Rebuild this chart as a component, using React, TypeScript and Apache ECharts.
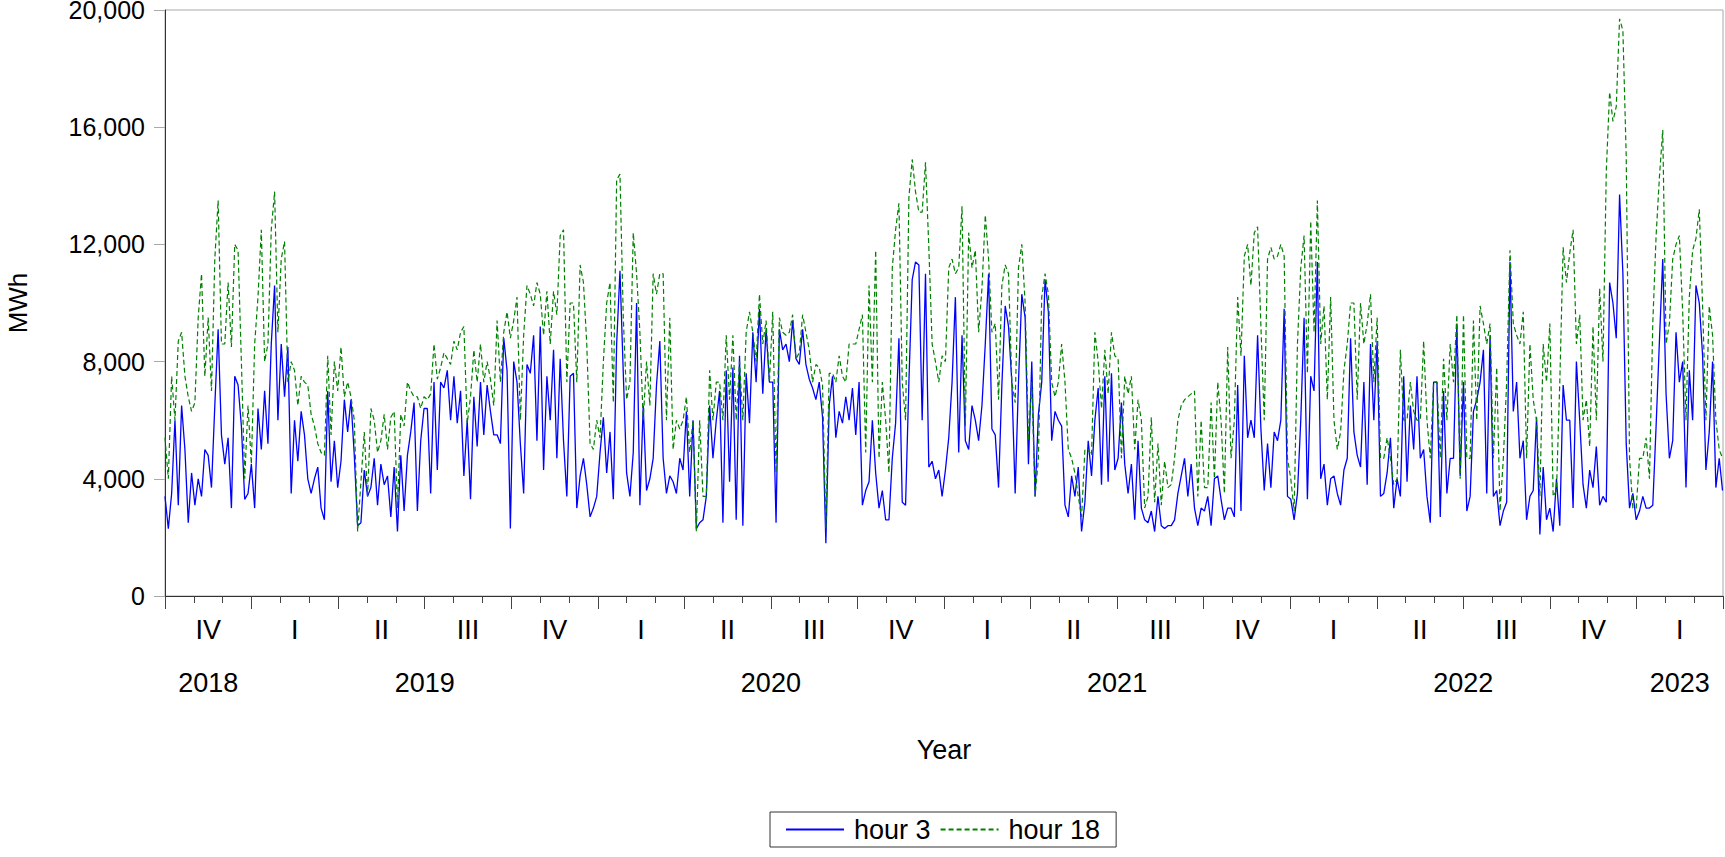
import React, { useEffect, useRef } from "react";
import * as echarts from "echarts";

// Samples every 3.5 days from 1 Oct 2018 to 31 Mar 2023, MWh
const stepDays = 3.5;
const totalDays = 1642;
const quarterLabels = ["IV", "I", "II", "III", "IV", "I", "II", "III", "IV", "I", "II", "III", "IV", "I", "II", "III", "IV", "I"];
const years = ["2018", "2019", "2020", "2021", "2022", "2023"];
const quartersPerYear = [1, 4, 4, 4, 4, 1];
const yTicks = [0, 4000, 8000, 12000, 16000, 20000];

const hour3 = [
  3400,2300,3500,6000,3100,6500,5000,2500,4200,3100,4000,3400,5000,4800,3700,6500,9100,5500,4500,5400,3000,7500,7200,5800,3300,3500,4500,3000,6400,5000,7000,5200,8600,10600,6000,8600,6800,8500,3500,6000,4600,6300,5500,4000,3500,4000,4400,
  3000,2600,7000,3900,5300,3700,4600,6700,5600,6700,4800,2400,2500,4300,3400,3700,4700,3100,4500,3800,4100,2700,4400,2200,4800,2900,4800,5600,6600,2900,5300,6400,6400,3500,7300,4300,7300,7100,7700,6000,7500,5900,7000,4100,6000,3300,6800,
  5100,7300,5500,7200,6300,5500,5500,5200,8800,7700,2300,8000,7300,5200,3500,7900,7600,8900,5300,9200,4300,7500,6000,8400,4700,8100,5300,3400,7500,7600,3000,4100,4700,3800,2700,3000,3400,4900,6100,4200,5600,3300,8600,11100,7600,4200,3400,
  4900,10000,3100,6500,3600,4000,4700,7200,8700,4700,3500,4100,3900,3500,4700,4300,6300,3400,6000,2300,2500,2600,3400,6500,4700,6000,7000,2500,7700,3900,7800,2600,8200,2400,7600,5900,9000,7300,9800,6900,9100,7300,7300,2500,9100,8400,8600,
  8000,9400,8100,7900,9100,7900,7400,7100,6700,7300,6100,1800,6500,7500,5400,6300,5900,6800,6000,7100,5500,7300,3100,3600,3900,6000,4200,3000,3600,2600,2600,4700,5900,8800,3200,3100,7300,10800,11400,11300,6000,11000,4400,4600,4000,4300,3400,
  4300,5400,7300,10200,4900,8900,5300,5000,6500,6000,5300,6500,8600,11000,5700,5500,3700,7200,9900,9200,7300,3500,7300,10300,9500,4500,8000,3400,6200,7300,10800,9700,5300,6300,6000,5800,3100,2700,4100,3400,4400,2200,3200,5300,4100,6000,7100,
  3800,7500,3900,7600,4300,4700,6600,4500,3500,4500,2600,5300,3000,2600,2500,2900,2200,3400,2400,2300,2400,2400,2600,3500,4100,4700,3400,4500,3000,2400,3000,2900,3400,2400,4000,4100,3300,2600,3000,3000,2700,7200,2900,8200,5400,6000,5400,
  8900,5700,3600,5200,3700,5600,5300,6000,9800,3400,3300,2600,3500,6000,9500,3300,7500,7000,11400,4000,4500,3100,4000,4100,3500,3100,4300,4700,8800,5600,4800,4400,7300,3800,8600,6000,8700,3400,3500,4200,5400,3000,4000,3400,7500,3900,6500,
  5000,7500,4700,5000,3400,2500,7300,7300,2700,7000,3500,4700,4700,9300,4100,7300,2900,3400,6300,6700,7300,8400,3500,8900,3400,3600,2400,2900,3200,11400,6300,7300,4700,5300,2600,3400,3600,6100,2100,4400,2600,3000,2200,4000,2400,7200,6000,
  6000,3000,8000,6000,3800,3000,4300,3700,5100,3100,3400,3200,10700,10000,8800,13700,11000,5200,3000,3500,2600,2900,3400,3000,3000,3100,5800,8700,11500,6900,4700,5300,9000,7300,8000,3700,7700,6000,10600,10000,8200,4300,5600,8000,3700,4700,3600,
];

const hour18 = [
  5400,4000,7500,6000,8700,9000,7500,6800,6300,6600,9500,11000,7500,9500,7000,11500,13500,8600,8600,10700,8500,12000,11800,8000,4000,6500,4500,8600,10200,12500,8000,8600,12500,13800,9000,11500,12100,7300,8000,7700,6500,7500,7300,7200,6200,5800,5200,
  4900,4800,8200,5500,8000,7000,8500,6800,7300,6800,6000,2200,3900,5600,3400,6400,6000,4900,5300,6200,5000,6100,6300,3000,6200,5800,7300,7000,6800,6800,6400,6800,6700,6900,8600,7400,7800,8300,8100,7900,8700,8400,9000,9200,5900,6800,8400,
  7300,8600,7300,8000,7400,6500,9400,7300,9000,9700,8800,9400,10200,6000,8900,10600,10300,9900,10700,10300,8900,10400,8600,10400,9600,12300,12500,7300,10000,10000,7300,11300,10700,8600,5200,5000,6000,5400,8000,10000,10700,6600,14200,14400,9500,6700,7300,
  12400,11000,9000,6000,8000,6500,11000,10300,11000,11000,6000,9500,5000,6000,5700,6000,6800,4900,6000,2200,6000,3400,3400,7700,6000,7300,7300,6000,8900,6700,8900,6000,8000,6000,9000,9700,9000,8000,10300,8600,9400,7300,9700,4200,9500,9000,8900,
  9000,9600,8100,8300,9600,9000,8400,7300,7900,7800,7200,2300,7600,7600,7300,8200,7500,7300,8600,8600,8600,9100,9600,4900,10600,7300,11800,4700,7300,6000,4200,11200,12500,13400,7300,6000,13600,14900,13800,13100,13100,14800,11900,8600,8000,7300,8200,
  8000,11200,11500,11000,11200,13300,5800,12400,11200,11800,9000,10500,13000,11500,9000,9300,6700,10600,11300,11000,7300,6600,11200,12000,10000,5300,7300,3400,4700,10200,11000,10300,7300,6800,7300,8600,7300,5000,4700,4200,3400,2700,5000,5000,4800,9000,8000,
  6400,8400,6900,9000,8200,8100,4700,7500,6900,7500,5000,6700,6000,3000,3400,6100,3200,5200,3100,4600,3700,3800,4700,6000,6500,6700,6800,6900,7000,3400,6000,3700,3700,6600,4000,7300,6000,3500,8500,4700,6000,10200,8200,11600,12000,10600,12400,
  12600,9200,6000,11500,11900,11500,11600,12000,11600,4700,4000,2900,8600,11200,12300,7600,12800,9000,13500,8600,9900,6700,10200,6000,5000,5600,7700,8600,10000,10000,6700,10000,8600,9300,10300,7300,9500,4700,4700,5400,4700,3800,4000,8400,6000,6000,7300,
  6300,6000,6000,8700,6000,4700,7300,7300,4700,8100,6000,8600,7300,9600,4000,9600,4700,4700,9400,6000,9900,9300,8600,9300,4700,7800,2900,4700,7300,11800,9300,8900,8600,9700,4700,8600,6700,6000,3400,8600,7300,9300,3400,3600,7300,11900,10700,
  11700,12500,8600,9600,6000,6700,5100,9200,6000,10500,8000,14500,17200,16200,16700,19700,19300,15000,4700,3000,3000,4700,4700,5400,4000,9300,12300,14300,15900,8600,9300,11500,12000,12300,9700,6000,10200,11800,12200,13200,9900,6000,9900,8900,6000,5000,4700,
];

const FONT = "'Liberation Sans', Arial, Helvetica, sans-serif";

export default function App() {
  const ref = useRef<HTMLDivElement>(null);

  useEffect(() => {
    if (!ref.current) return;
    const chart = echarts.init(ref.current, undefined, { renderer: "svg" });

    const toPairs = (arr: number[]) => arr.map((v, i) => [i * stepDays, v]);

    // year label positions in eighths of a quarter
    const yearAt: Record<number, string> = {};
    let q = 0;
    years.forEach((y, k) => {
      const center = (q + quartersPerYear[k] / 2) * 8;
      yearAt[center] = y;
      q += quartersPerYear[k];
    });
    const eighths = quarterLabels.length * 8;

    chart.setOption({
      animation: false,
      textStyle: { fontFamily: FONT, color: "#000" },
      grid: {
        left: 165,
        right: 2,
        top: 10,
        bottom: 261,
        show: true,
        borderColor: "#a8a8a8",
        borderWidth: 1,
        containLabel: false,
        outerBoundsMode: "none",
      },
      legend: {
        data: ["hour 3", "hour 18"],
        left: 770,
        top: 812,
        itemWidth: 58,
        itemHeight: 14,
        itemGap: 9,
        padding: [4, 16, 4, 15],
        borderColor: "#333",
        borderWidth: 1,
        itemStyle: { opacity: 0 },
        textStyle: { fontSize: 27, color: "#000", fontFamily: FONT, padding: [0, 0, 0, 5] },
      },
      xAxis: [
        {
          type: "value",
          min: 0,
          max: totalDays,
          interval: totalDays / quarterLabels.length,
          axisLine: { show: true, lineStyle: { color: "#333", width: 1 } },
          axisTick: { show: true, length: 13, lineStyle: { color: "#444" } },
          minorTick: { show: true, splitNumber: 3, length: 7, lineStyle: { color: "#444" } },
          axisLabel: { show: false },
          splitLine: { show: false },
          minorSplitLine: { show: false },
          name: "Year",
          nameLocation: "middle",
          nameGap: 140,
          nameTextStyle: { fontSize: 27, color: "#000", fontFamily: FONT },
        },
        {
          type: "category",
          data: quarterLabels,
          boundaryGap: true,
          position: "bottom",
          axisLine: { show: false },
          axisTick: { show: false },
          axisLabel: { fontSize: 27, color: "#000", margin: 20, fontFamily: FONT, interval: 0 },
          splitLine: { show: false },
        },
        {
          type: "value",
          min: 0,
          max: eighths,
          interval: 4,
          position: "bottom",
          axisLine: { show: false },
          axisTick: { show: false },
          splitLine: { show: false },
          axisLabel: {
            fontSize: 27,
            color: "#000",
            margin: 73,
            fontFamily: FONT,
            formatter: (v: number) => yearAt[v] ?? "",
          },
        },
      ],
      yAxis: {
        type: "value",
        min: yTicks[0],
        max: yTicks[yTicks.length - 1],
        interval: yTicks[1] - yTicks[0],
        axisLine: { show: true, lineStyle: { color: "#333", width: 1 } },
        axisTick: { show: true, length: 11, lineStyle: { color: "#aaa" } },
        splitLine: { show: false },
        axisLabel: {
          fontSize: 25,
          lineHeight: 18,
          color: "#000",
          margin: 20,
          fontFamily: FONT,
          formatter: (v: number) => v.toLocaleString("en-US"),
        },
        name: "MWh",
        nameLocation: "middle",
        nameGap: 136,
        nameTextStyle: { fontSize: 26, lineHeight: 22, color: "#000", fontFamily: FONT },
      },
      series: [
        {
          name: "hour 3",
          type: "line",
          xAxisIndex: 0,
          data: toPairs(hour3),
          symbol: "none",
          showSymbol: false,
          lineStyle: { color: "#0000ff", width: 1.3 },
          itemStyle: { color: "#0000ff" },
        },
        {
          name: "hour 18",
          type: "line",
          xAxisIndex: 0,
          data: toPairs(hour18),
          symbol: "none",
          showSymbol: false,
          lineStyle: { color: "#008000", width: 1.2, type: [5, 3] },
          itemStyle: { color: "#008000" },
        },
      ],
    });

    return () => chart.dispose();
  }, []);

  return (
    <div
      ref={ref}
      style={{ position: "absolute", left: 0, top: 0, width: 1725, height: 857, background: "#fff" }}
    />
  );
}
